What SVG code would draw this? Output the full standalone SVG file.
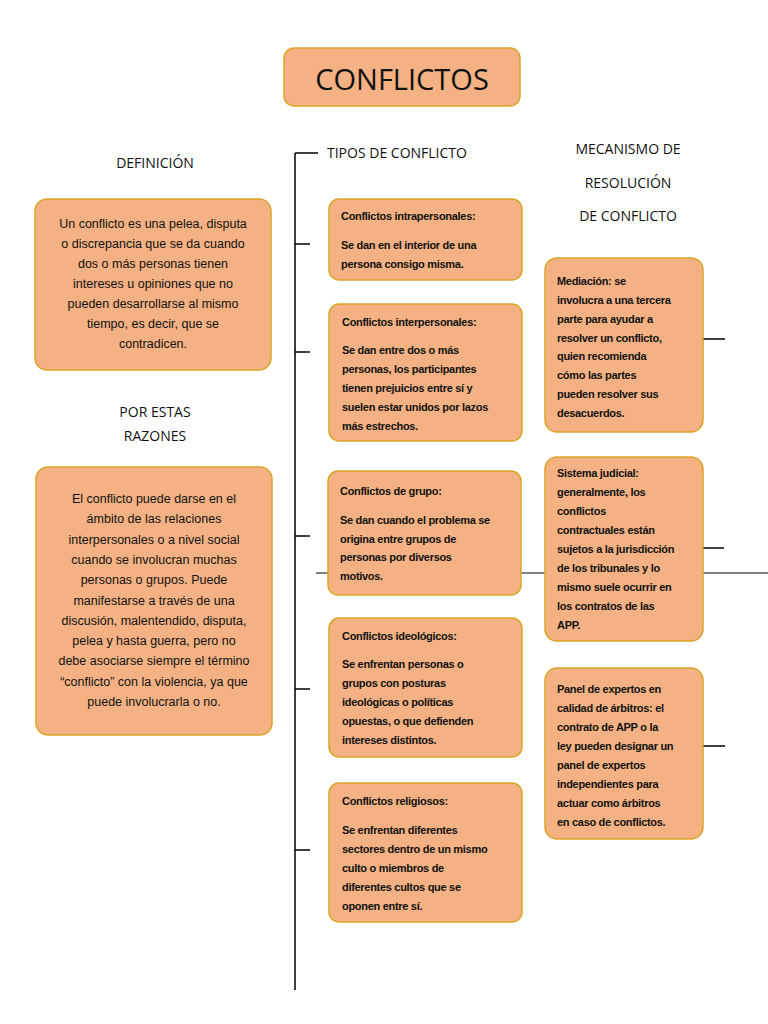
<svg xmlns="http://www.w3.org/2000/svg" width="768" height="1024" viewBox="0 0 768 1024">
<style>
.box{fill:#F4B183;stroke:#D9A528;stroke-width:1.5}
.h{font-family:"Open Sans","Liberation Sans",sans-serif;font-size:14px;fill:#111}
.t{font-family:"Liberation Sans",Arial,sans-serif;font-size:12.5px;fill:#111;text-anchor:middle}
.b{font-family:"Liberation Sans",Arial,sans-serif;font-size:11px;font-weight:bold;fill:#111;letter-spacing:-0.3px}
.ln{stroke:#000;stroke-width:1.5;fill:none}
</style>
<rect width="768" height="1024" fill="#fff"/>
<g id="title"><rect class="box" x="284" y="48" width="236" height="58" rx="10"/><text x="402" y="90" font-family="Open Sans,Liberation Sans,sans-serif" font-size="29" text-anchor="middle" fill="#111">CONFLICTOS</text></g>
<g id="connectors">
<path class="ln" d="M295,153V990M295,153H318M295,244H310M295,352H310M295,536H310M295,689H310M295,850H310M703,339H725M703,548H724M703,746H725"/>
<path d="M316,573H768" stroke="#000" stroke-width="1.2"/>
</g>
<g id="labels">
<text class="h" x="155" y="168" text-anchor="middle">DEFINICIÓN</text>
<text class="h" x="155" y="417" text-anchor="middle">POR ESTAS</text>
<text class="h" x="155" y="441" text-anchor="middle">RAZONES</text>
<text class="h" x="327" y="158">TIPOS DE CONFLICTO</text>
<text class="h" x="628" y="154" text-anchor="middle">MECANISMO DE</text>
<text class="h" x="628" y="188" text-anchor="middle">RESOLUCIÓN</text>
<text class="h" x="628" y="221" text-anchor="middle">DE CONFLICTO</text>
</g>
<g id="definicion"><rect class="box" x="35" y="199" width="236" height="171" rx="12"/>
<text class="t"><tspan x="153" y="228">Un conflicto es una pelea, disputa</tspan><tspan x="153" y="248">o discrepancia que se da cuando</tspan><tspan x="153" y="268">dos o más personas tienen</tspan><tspan x="153" y="288">intereses u opiniones que no</tspan><tspan x="153" y="308">pueden desarrollarse al mismo</tspan><tspan x="153" y="328">tiempo, es decir, que se</tspan><tspan x="153" y="348">contradicen.</tspan></text></g>
<g id="razones"><rect class="box" x="36" y="467" width="236" height="268" rx="12"/>
<text class="t"><tspan x="154" y="503">El conflicto puede darse en el</tspan><tspan x="154" y="523.3">ámbito de las relaciones</tspan><tspan x="154" y="543.6">interpersonales o a nivel social</tspan><tspan x="154" y="563.9">cuando se involucran muchas</tspan><tspan x="154" y="584.2">personas o grupos. Puede</tspan><tspan x="154" y="604.5">manifestarse a través de una</tspan><tspan x="154" y="624.8">discusión, malentendido, disputa,</tspan><tspan x="154" y="645.1">pelea y hasta guerra, pero no</tspan><tspan x="154" y="665.4">debe asociarse siempre el término</tspan><tspan x="154" y="685.7">“conflicto” con la violencia, ya que</tspan><tspan x="154" y="706">puede involucrarla o no.</tspan></text></g>
<g id="intra"><rect class="box" x="329" y="199" width="193" height="81" rx="10"/>
<text class="b"><tspan x="341" y="220">Conflictos intrapersonales:</tspan><tspan x="341" y="249">Se dan en el interior de una</tspan><tspan x="341" y="268">persona consigo misma.</tspan></text></g>
<g id="inter"><rect class="box" x="329" y="304" width="193" height="137" rx="10"/>
<text class="b"><tspan x="342" y="326">Conflictos interpersonales:</tspan><tspan x="342" y="354">Se dan entre dos o más</tspan><tspan x="342" y="373">personas, los participantes</tspan><tspan x="342" y="392">tienen prejuicios entre sí y</tspan><tspan x="342" y="411">suelen estar unidos por lazos</tspan><tspan x="342" y="430">más estrechos.</tspan></text></g>
<g id="grupo"><rect class="box" x="328" y="471" width="193" height="124" rx="10"/>
<text class="b"><tspan x="340" y="495">Conflictos de grupo:</tspan><tspan x="340" y="524">Se dan cuando el problema se</tspan><tspan x="340" y="543">origina entre grupos de</tspan><tspan x="340" y="561">personas por diversos</tspan><tspan x="340" y="580">motivos.</tspan></text></g>
<g id="ideologicos"><rect class="box" x="329" y="618" width="193" height="139" rx="10"/>
<text class="b"><tspan x="342" y="640">Conflictos ideológicos:</tspan><tspan x="342" y="668">Se enfrentan personas o</tspan><tspan x="342" y="687">grupos con posturas</tspan><tspan x="342" y="706">ideológicas o políticas</tspan><tspan x="342" y="725">opuestas, o que defienden</tspan><tspan x="342" y="744">intereses distintos.</tspan></text></g>
<g id="religiosos"><rect class="box" x="329" y="783" width="193" height="139" rx="10"/>
<text class="b"><tspan x="342" y="805">Conflictos religiosos:</tspan><tspan x="342" y="834">Se enfrentan diferentes</tspan><tspan x="342" y="853">sectores dentro de un mismo</tspan><tspan x="342" y="872">culto o miembros de</tspan><tspan x="342" y="891">diferentes cultos que se</tspan><tspan x="342" y="910">oponen entre sí.</tspan></text></g>
<g id="mediacion"><rect class="box" x="545" y="258" width="158" height="174" rx="12"/>
<text class="b"><tspan x="557" y="285">Mediación: se</tspan><tspan x="557" y="304">involucra a una tercera</tspan><tspan x="557" y="323">parte para ayudar a</tspan><tspan x="557" y="342">resolver un conflicto,</tspan><tspan x="557" y="360">quien recomienda</tspan><tspan x="557" y="379">cómo las partes</tspan><tspan x="557" y="398">pueden resolver sus</tspan><tspan x="557" y="417">desacuerdos.</tspan></text></g>
<g id="judicial"><rect class="box" x="545" y="457" width="158" height="184" rx="12"/>
<text class="b"><tspan x="557" y="477">Sistema judicial:</tspan><tspan x="557" y="496">generalmente, los</tspan><tspan x="557" y="515">conflictos</tspan><tspan x="557" y="534">contractuales están</tspan><tspan x="557" y="553">sujetos a la jurisdicción</tspan><tspan x="557" y="572">de los tribunales y lo</tspan><tspan x="557" y="591">mismo suele ocurrir en</tspan><tspan x="557" y="610">los contratos de las</tspan><tspan x="557" y="629">APP.</tspan></text></g>
<g id="panel"><rect class="box" x="545" y="668" width="158" height="171" rx="12"/>
<text class="b"><tspan x="557" y="693">Panel de expertos en</tspan><tspan x="557" y="712">calidad de árbitros: el</tspan><tspan x="557" y="731">contrato de APP o la</tspan><tspan x="557" y="750">ley pueden designar un</tspan><tspan x="557" y="769">panel de expertos</tspan><tspan x="557" y="788">independientes para</tspan><tspan x="557" y="807">actuar como árbitros</tspan><tspan x="557" y="826">en caso de conflictos.</tspan></text></g>
</svg>
